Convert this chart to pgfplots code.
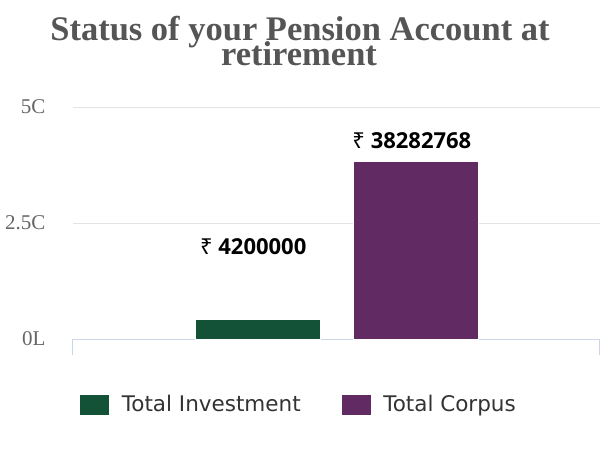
\documentclass[border=0pt]{standalone}
\usepackage{fontspec}
\usepackage{pgfplots}
\pgfplotsset{compat=1.18}
\setmainfont{Liberation Serif}
\setsansfont{DejaVu Sans}
\newfontfamily\labelfont{Open Sans}
\newfontfamily\rupeefont{Noto Sans}
\definecolor{invgreen}{HTML}{145238}
\definecolor{corpurple}{HTML}{612A63}
\definecolor{titlegray}{HTML}{555555}
\definecolor{tickgray}{HTML}{666666}
\definecolor{gridgray}{HTML}{E3E3E3}
\definecolor{axisblue}{HTML}{CCD6EB}
\definecolor{legendtext}{HTML}{333333}
\newcommand{\rupee}{{\rupeefont\bfseries ₹}}

\begin{document}
\begin{tikzpicture}[x=1pt,y=1pt]
  \path[use as bounding box] (0,0) rectangle (606,456);

  % title, two lines
  \node[anchor=base, text=titlegray, font=\bfseries\fontsize{34.5}{34.5}\selectfont]
    at (300,415) {Status of your Pension Account at};
  \node[anchor=base, text=titlegray, font=\bfseries\fontsize{34.5}{34.5}\selectfont]
    at (299,390) {retirement};

  \begin{axis}[
    at={(73pt,117pt)}, anchor=south west,
    scale only axis,
    width=527pt, height=232pt,
    ybar=33pt, bar width=125pt,
    xmin=-0.5, xmax=0.5,
    ymin=0, ymax=5e7,
    scaled ticks=false,
    xtick={-0.5,0.5}, xticklabels={},
    ytick={0,2.5e7,5e7},
    yticklabels={0L,2.5C,5C},
    axis x line*=bottom,
    axis y line*=left,
    y axis line style={draw=none},
    x axis line style={draw=axisblue, line width=1pt},
    xtick style={draw=axisblue, line width=1pt},
    ytick style={draw=none},
    tick align=outside,
    major tick length=16pt,
    ymajorgrids,
    grid style={draw=gridgray, line width=1pt},
    yticklabel style={text=tickgray, font=\fontsize{21}{21}\selectfont,
      anchor=east, xshift=-8pt},
    legend style={at={(0.428,-0.282)}, anchor=center, draw=none,
      font=\sffamily\fontsize{21.5}{21.5}\selectfont, text=legendtext,
      /tikz/every odd column/.append style={column sep=10pt},
      /tikz/every even column/.append style={column sep=38pt}},
    legend columns=2,
    legend image code/.code={\fill[#1] (0pt,-10.5pt) rectangle (30pt,10.5pt);},
  ]
    \addplot[fill=invgreen, draw=white, line width=0.6pt] coordinates {(0,4200000)};
    \addlegendentry{Total Investment}
    \addplot[fill=corpurple, draw=white, line width=0.6pt] coordinates {(0,38282768)};
    \addlegendentry{Total Corpus}

    \node[font=\labelfont\bfseries\fontsize{22}{22}\selectfont]
      at (axis cs:-0.158,1.98e7) {\rupee\ 4200000};
    \node[font=\labelfont\bfseries\fontsize{22}{22}\selectfont]
      at (axis cs:0.143,4.27e7) {\rupee\ 38282768};
  \end{axis}
\end{tikzpicture}
\end{document}
